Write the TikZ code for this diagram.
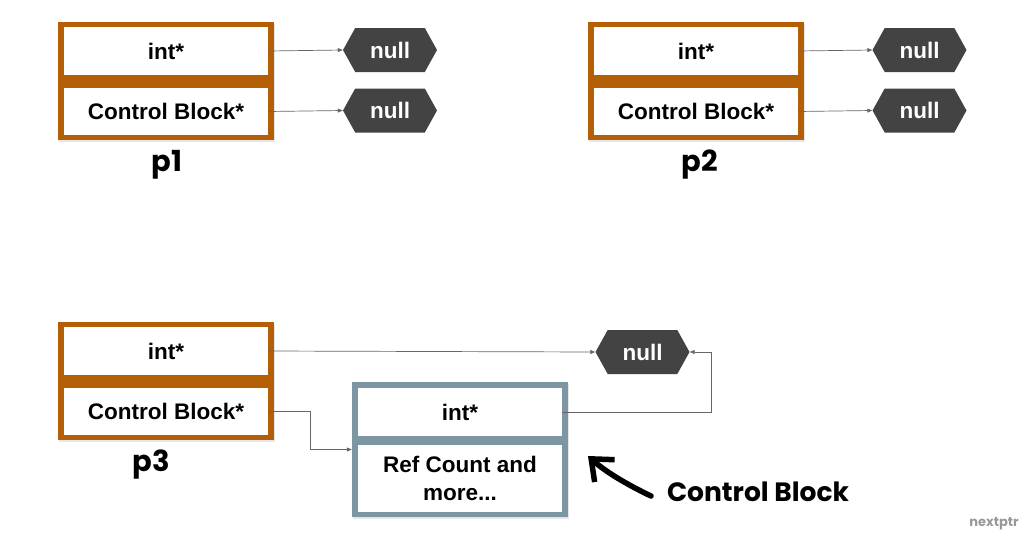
\documentclass[tikz,border=0pt]{standalone}
\usepackage{fontspec}
\newfontfamily\arialf{Liberation Sans}
\newfontfamily\popf{Poppins}
\usetikzlibrary{shapes.symbols,arrows.meta,shadows}
\definecolor{ptrorange}{HTML}{B45F06}
\definecolor{cbblue}{HTML}{7C96A4}
\definecolor{nullgray}{HTML}{434343}
\definecolor{wiregray}{HTML}{666666}
\tikzset{
  outerptr/.style={fill=ptrorange, draw=none, inner sep=0pt, minimum width=216pt, minimum height=118pt,
    drop shadow={opacity=0.2, shadow xshift=1pt, shadow yshift=-1.5pt}},
  outercb/.style={fill=cbblue, draw=none, inner sep=0pt, minimum width=216pt, minimum height=135pt,
    drop shadow={opacity=0.2, shadow xshift=1pt, shadow yshift=-1.5pt}},
  cell/.style={fill=white, draw=none, inner sep=0pt, minimum width=204pt, minimum height=48pt,
    font=\arialf\bfseries\fontsize{22.5}{28}\selectfont, align=center},
  nullnode/.style={signal, signal to=west and east, signal pointer angle=122, fill=nullgray, draw=none,
    text=white, inner sep=0pt, minimum width=94pt, minimum height=44pt,
    font=\arialf\bfseries\fontsize{22.5}{24}\selectfont},
  wire/.style={draw=wiregray, line width=0.7pt, -{Triangle[length=5pt,width=4pt]}},
  plabel/.style={font=\popf\bfseries\fontsize{29}{32}\selectfont, anchor=base},
}
\begin{document}
\begin{tikzpicture}[x=1pt,y=-1pt]
\useasboundingbox (0,0) rectangle (1024,536);
% p1
\node[outerptr] (p1o) at (166,81) {};
\node[cell] (p1i) at (166,51) {int*};
\node[cell, minimum height=47pt] (p1c) at (166,111.5) {Control Block*};
\node[nullnode] (n1) at (390,50) {null};
\node[nullnode] (n2) at (390,110.5) {null};
\node[plabel] (p1l) at (167,171) {p1};
\draw[wire] (p1i.east) -- (n1.west);
\draw[wire] (p1c.east) -- (n2.west);
% p2
\node[outerptr] (p2o) at (696,81) {};
\node[cell] (p2i) at (696,51) {int*};
\node[cell, minimum height=47pt] (p2c) at (696,111.5) {Control Block*};
\node[nullnode] (n3) at (919.5,50) {null};
\node[nullnode] (n4) at (919.5,110.5) {null};
\node[plabel] (p2l) at (700,171) {p2};
\draw[wire] (p2i.east) -- (n3.west);
\draw[wire] (p2c.east) -- (n4.west);
% p3
\node[outerptr] (p3o) at (166,381) {};
\node[cell] (p3i) at (166,351) {int*};
\node[cell, minimum height=47pt] (p3c) at (166,411.5) {Control Block*};
\node[plabel] (p3l) at (151,471) {p3};
\node[nullnode] (n5) at (642.5,352) {null};
% control block
\node[outercb] (cbo) at (460,449.5) {};
\node[cell] (cbi) at (460,412) {int*};
\node[cell, minimum height=67pt] (cbr) at (460,478.5) {Ref Count and\\more...};
\coordinate (rt) at (711,412);
\draw[wire] (p3i.east) -- (n5.west);
\draw[wire] (p3c.east) -- ++(42,0) |- (cbo.west);
\draw[wire] (cbi.east) -- (rt) |- (n5.east);
% annotation
\node[font=\popf\bfseries\fontsize{26.5}{30}\selectfont] (cbl) at (758,492) {Control Block};
\coordinate (at) at (651,496);
\coordinate (ah) at (588,456);
\draw[line width=5.5pt, line cap=round, -{Straight Barb[length=18pt,width=30pt,line width=5.5pt]}]
  (at) .. controls (630,486) and (607,473) .. (ah);
\node[font=\popf\bfseries\fontsize{13}{14}\selectfont, text=black!40] (wm) at (994,524) {nextptr};
\end{tikzpicture}
\end{document}
